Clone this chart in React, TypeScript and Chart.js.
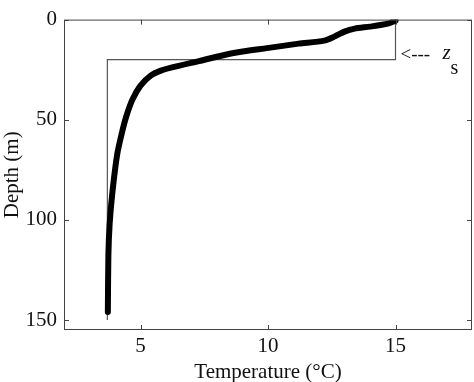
import React, { useEffect, useRef } from "react";
import { Chart, registerables } from "chart.js";
Chart.register(...registerables);

const depths = [0.5, 2, 3.5, 4.5, 6, 8.5, 10.5, 12, 14, 16.8, 20.7, 24, 25.5, 28, 33, 40, 48, 55, 67, 86, 102, 118, 146];
const temps = [15.0, 14.7, 14.0, 13.4, 13.0, 12.6, 12.2, 11.2, 10.1, 8.6, 7.3, 6.2, 5.8, 5.4, 5.0, 4.68, 4.45, 4.3, 4.09, 3.9, 3.79, 3.74, 3.72];
const stepTemps = [15, 15, 3.7, 3.7];
const stepDepths = [0, 20, 20, 150];
const xTicks = [5, 10, 15];
const yTicks = [0, 50, 100, 150];
const zsLabel = { temp: 15, depth: 20 };

const SERIF = "'Liberation Serif', 'DejaVu Serif', serif";

const framePlugin = {
  id: "frame",
  afterDatasetsDraw(chart: any) {
    const { ctx, chartArea: a, scales } = chart;
    const x = scales.x, y = scales.y;
    ctx.save();
    ctx.strokeStyle = "#444";
    ctx.lineWidth = 1;
    ctx.strokeRect(a.left + 0.5, a.top + 0.5, a.right - a.left - 1, a.bottom - a.top - 1);
    const tl = 5;
    ctx.beginPath();
    xTicks.forEach((v) => {
      const px = Math.round(x.getPixelForValue(v)) + 0.5;
      ctx.moveTo(px, a.bottom);
      ctx.lineTo(px, a.bottom - tl);
      ctx.moveTo(px, a.top);
      ctx.lineTo(px, a.top + tl);
    });
    yTicks.forEach((v) => {
      const py = Math.round(y.getPixelForValue(v)) + 0.5;
      ctx.moveTo(a.left, py);
      ctx.lineTo(a.left + tl, py);
      ctx.moveTo(a.right, py);
      ctx.lineTo(a.right - tl, py);
    });
    ctx.stroke();
    // annotation
    const px = x.getPixelForValue(zsLabel.temp);
    const py = y.getPixelForValue(zsLabel.depth);
    ctx.fillStyle = "#111";
    ctx.textBaseline = "middle";
    ctx.textAlign = "left";
    ctx.font = `19px ${SERIF}`;
    ctx.fillText("<---", px + 5, py - 5);
    ctx.font = `italic 21px ${SERIF}`;
    ctx.fillText("z", px + 47, py - 6);
    ctx.font = `20px ${SERIF}`;
    ctx.fillText("s", px + 55, py + 9);
    ctx.restore();
  },
};

export default function App() {
  const ref = useRef<HTMLCanvasElement>(null);
  useEffect(() => {
    const chart = new Chart(ref.current!, {
      type: "scatter",
      data: {
        datasets: [
          {
            data: stepTemps.map((t, i) => ({ x: t, y: stepDepths[i] })),
            showLine: true,
            borderColor: "#555",
            borderWidth: 1.2,
            pointRadius: 0,
            tension: 0,
            order: 2,
          },
          {
            data: temps.map((t, i) => ({ x: t, y: depths[i] })),
            showLine: true,
            borderColor: "#000",
            borderWidth: 6,
            borderCapStyle: "round",
            borderJoinStyle: "round",
            pointRadius: 0,
            tension: 0.25,
            order: 1,
          },
        ],
      },
      options: {
        animation: false,
        responsive: false,
        maintainAspectRatio: false,
        layout: { padding: { top: 7, right: 2, left: 0, bottom: 0 } },
        plugins: { legend: { display: false }, tooltip: { enabled: false } },
        scales: {
          x: {
            type: "linear",
            min: 2,
            max: 18,
            afterBuildTicks: (s: any) => { s.ticks = xTicks.map((v) => ({ value: v })); },
            afterFit: (s: any) => { s.height = 52; },
            grid: { display: false, drawTicks: false },
            border: { display: false },
            ticks: { color: "#111", font: { family: SERIF, size: 21 }, padding: 4 },
            title: { display: true, text: "Temperature (°C)", color: "#111", font: { family: SERIF, size: 21 }, padding: { top: 0, bottom: -3 } },
          },
          y: {
            type: "linear",
            reverse: true,
            min: 0,
            max: 155,
            afterBuildTicks: (s: any) => { s.ticks = yTicks.map((v) => ({ value: v })); },
            afterFit: (s: any) => { s.width = 64; },
            grid: { display: false, drawTicks: false },
            border: { display: false },
            ticks: { color: "#111", font: { family: SERIF, size: 21 }, padding: 7 },
            title: { display: true, text: "Depth (m)", color: "#111", font: { family: SERIF, size: 21 }, padding: { top: 0, bottom: 0 } },
          },
        },
      },
      plugins: [framePlugin],
    } as any);
    return () => chart.destroy();
  }, []);
  return (
    <div style={{ position: "fixed", left: 0, top: 0, width: 474, height: 382, background: "#fff" }}>
      <canvas ref={ref} width={474} height={382} />
    </div>
  );
}
